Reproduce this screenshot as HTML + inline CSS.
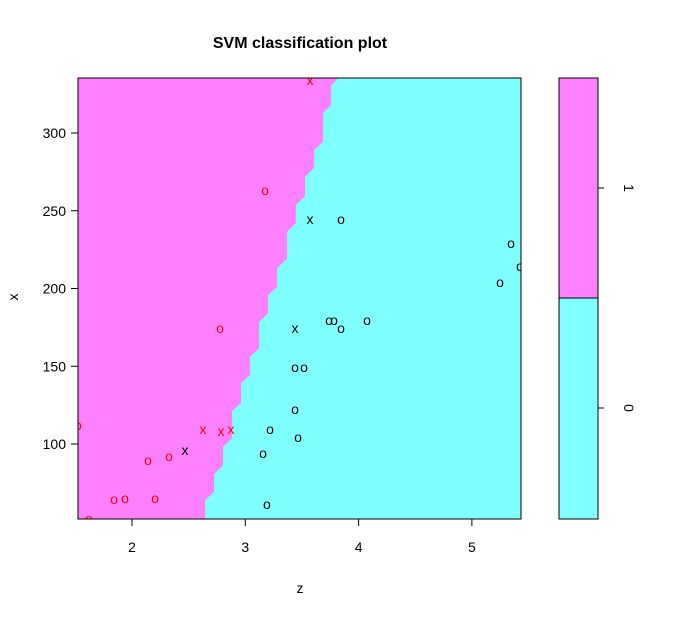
<!DOCTYPE html>
<html><head><meta charset="utf-8"><style>
body{margin:0;background:#fff}
svg text{font-family:"Liberation Sans",Arial,sans-serif}
</style></head><body>
<svg id="chart" width="677" height="617" xmlns="http://www.w3.org/2000/svg">
<defs><clipPath id="pc"><rect x="78" y="78" width="443" height="441"/></clipPath></defs>
<text x="300" y="48" font-size="16" font-weight="bold" text-anchor="middle">SVM classification plot</text>
<g id="plot" clip-path="url(#pc)"></g>
<rect x="78" y="78" width="443" height="441" fill="none" stroke="#000"/>
<g id="axes"></g>
<text x="300" y="593" font-size="14" text-anchor="middle">z</text>
<text x="0" y="0" font-size="14" text-anchor="middle" transform="translate(18,297) rotate(-90)">x</text>
<g>
<rect x="559" y="78" width="39" height="220" fill="#ff80ff"/>
<rect x="559" y="298" width="39" height="221" fill="#80ffff"/>
<line x1="559" y1="298" x2="598" y2="298" stroke="#000"/>
<rect x="559" y="78" width="39" height="441" fill="none" stroke="#000"/>
<line x1="598" y1="188" x2="604" y2="188" stroke="#000"/>
<line x1="598" y1="408" x2="604" y2="408" stroke="#000"/>
<text font-size="14" text-anchor="middle" transform="translate(624,188) rotate(90)">1</text>
<text font-size="14" text-anchor="middle" transform="translate(624,408) rotate(90)">0</text>
</g>
</svg>
<script>
const xTicks=[2,3,4,5];
const yTicks=[100,150,200,250,300];
const boundaryZ=[3.818,3.756,3.756,3.686,3.686,3.606,3.606,3.527,3.527,3.447,3.447,3.368,3.368,3.280,3.280,3.201,3.201,3.121,3.121,3.041,3.041,2.962,2.962,2.883,2.883,2.803,2.803,2.724,2.724,2.645,2.645];
const boundaryY=[335.4,330.2,318.0,312.9,294.2,289.1,277.5,271.7,259.5,253.7,242.1,236.3,219.0,213.2,201.0,195.8,184.2,178.4,161.7,156.0,144.4,139.2,126.4,121.2,103.9,98.1,85.9,80.7,69.1,64.0,51.8];
const ptZ=[3.571,3.174,2.777,1.523,2.627,2.786,2.874,2.141,2.327,1.841,1.938,2.203,1.620,3.571,3.845,3.439,3.739,3.783,3.845,4.074,3.439,3.518,3.439,3.218,3.465,3.156,3.191,2.468,5.345,5.424,5.248];
const ptY=[334,263.3,174.6,112.2,109.6,108.4,109.6,89.7,92.3,64.6,65.3,65.3,52,244.7,244.7,174.6,179.7,179.7,174.6,179.7,149.5,149.5,122.5,109.6,104.5,94.2,61.4,96,229.3,214.5,204.2];
const ptSym=["x","o","o","o","x","x","x","o","o","o","o","o","o","x","o","x","o","o","o","o","o","o","o","o","o","o","o","x","o","o","o"];
const ptCol=["red","red","red","red","red","red","red","red","red","red","red","red","red","black","black","black","black","black","black","black","black","black","black","black","black","black","black","black","black","black","black"];
const NS="http://www.w3.org/2000/svg";
const sx=z=>132+(z-2)*113.3;
const sy=v=>133+(300-v)*1.555;
const plot=document.getElementById('plot'),axes=document.getElementById('axes');
function mk(tag,attrs,parent){const e=document.createElementNS(NS,tag);for(const k in attrs)e.setAttribute(k,attrs[k]);parent.appendChild(e);return e;}
const bg=mk('rect',{x:78,y:78,width:443,height:441,fill:'#80ffff'},plot);


let pts=[[sx(1.0),sy(400)]];
for(let i=0;i<boundaryZ.length;i++)pts.push([sx(boundaryZ[i]),sy(boundaryY[i])]);
pts.push([sx(2.645),sy(0)],[sx(1.0),sy(0)]);
pts.splice(1,0,[sx(boundaryZ[0]+0.1),sy(400)]);
const poly=mk('polygon',{points:pts.map(p=>p.join(',')).join(' '),fill:'#ff80ff'},plot);


for(let i=0;i<ptZ.length;i++){
 const t=mk('text',{x:sx(ptZ[i]),y:sy(ptY[i])+5,'font-size':14,'text-anchor':'middle',fill:ptCol[i]},plot);
 t.textContent=ptSym[i];
 
 
}
xTicks.forEach(v=>{
 mk('line',{x1:sx(v),x2:sx(v),y1:519,y2:526,stroke:'#000'},axes);
 const t=mk('text',{x:sx(v),y:552,'font-size':14,'text-anchor':'middle'},axes);
 t.textContent=v;
 
 
});
yTicks.forEach(v=>{
 mk('line',{x1:71,x2:78,y1:sy(v),y2:sy(v),stroke:'#000'},axes);
 const t=mk('text',{x:66,y:sy(v)+5,'font-size':14,'text-anchor':'end'},axes);
 t.textContent=v;
 
 
});
</script>
</body></html>
